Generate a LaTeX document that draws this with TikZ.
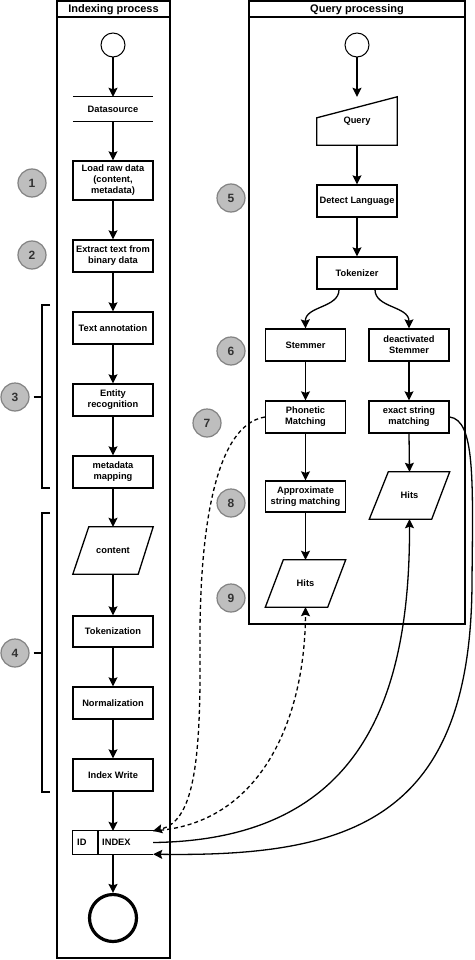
\documentclass[tikz,border=0pt]{standalone}
\usepackage{fontspec}
\setmainfont{Liberation Sans}
\usetikzlibrary{arrows.meta,calc}
\definecolor{numfill}{RGB}{190,190,190}
\definecolor{numdraw}{RGB}{130,130,130}
\begin{document}
\begin{tikzpicture}[x=1pt,y=-1pt,
  box/.style={draw,line width=1.3pt,minimum width=80pt,minimum height=32pt,inner sep=1pt,align=center,font=\fontsize{9.3}{11}\selectfont\bfseries},
  blank/.style={draw=none,minimum width=80pt,inner sep=1pt,align=center,font=\fontsize{9.3}{11}\selectfont\bfseries},
  num/.style={circle,fill=numfill,draw=numdraw,line width=1.2pt,minimum size=28pt,inner sep=0pt,font=\fontsize{12}{14}\selectfont\bfseries,text=black!80},
  lane/.style={draw,line width=1.5pt,inner sep=0pt},
  ttl/.style={font=\fontsize{11}{13}\selectfont\bfseries,inner sep=0pt},
  arr/.style={line width=1.3pt,-{Stealth[length=9pt,width=9pt,inset=1.5pt]}},
  dsh/.style={arr,dash pattern=on 4pt off 3pt},
  startc/.style={circle,draw,line width=1pt,minimum size=24pt,inner sep=0pt},
  endc/.style={circle,draw,line width=3.2pt,minimum size=47pt,inner sep=0pt},
  shp/.style={line width=1.3pt}]
\useasboundingbox (0,0) rectangle (474,960);
% lanes
\node[lane,minimum width=113pt,minimum height=957pt] (laneL) at (113.5,479.5) {};
\draw[line width=1.5pt] (57,17) -- (170,17);
\node[ttl] (titleL) at (113.5,9.5) {Indexing process};
\node[lane,minimum width=216pt,minimum height=623pt] (laneR) at (357,312.5) {};
\draw[line width=1.5pt] (249,17) -- (465,17);
\node[ttl] (titleR) at (357,9.5) {Query processing};

% left lane nodes
\node[startc] (lstart) at (113,45) {};
\node[blank,minimum height=24pt] (ds) at (113,109) {Datasource};
\draw[shp] (ds.north west) -- (ds.north east);
\draw[shp] (ds.south west) -- (ds.south east);
\node[box,minimum height=39pt] (load) at (113,180.5) {Load raw data\\(content,\\metadata)};
\node[box] (extract) at (113,256) {Extract text from\\binary data};
\node[box] (annot) at (113,328) {Text annotation};
\node[box] (entity) at (113,400) {Entity\\recognition};
\node[box] (meta) at (113,472) {metadata\\mapping};
\node[blank,minimum height=47pt] (content) at (113,550.5) {content};
\draw[shp] ($(content.north west)+(16,0)$) -- (content.north east) -- ($(content.south east)+(-15,0)$) -- (content.south west) -- cycle;
\node[box,minimum height=31pt] (tokz) at (113,631.5) {Tokenization};
\node[box] (norm) at (113,703) {Normalization};
\node[box] (iwrite) at (113,775) {Index Write};
\node[blank,minimum height=23pt] (index) at (113,842.5) {};
\draw[shp] (index.north east) -- (index.north west) -- (index.south west) -- (index.south east);
\draw[shp] (98,831) -- (98,854);
\node[blank,anchor=west,minimum width=0pt] (idlbl) at (76,842.5) {ID};
\node[blank,anchor=west,minimum width=0pt] (idxlbl) at (101,842.5) {INDEX};
\node[endc] (lend) at (113,918) {};

\draw[arr] (lstart) -- (ds.north);
\draw[arr] (ds.south) -- (load.north);
\draw[arr] (load) -- (extract);
\draw[arr] (extract) -- (annot);
\draw[arr] (annot) -- (entity);
\draw[arr] (entity) -- (meta);
\draw[arr] (meta.south) -- (content.north);
\draw[arr] (content.south) -- (tokz.north);
\draw[arr] (tokz) -- (norm);
\draw[arr] (norm) -- (iwrite);
\draw[arr] (iwrite.south) -- (index.north);
\draw[arr] (index.south) -- (lend.north);

% right lane nodes
\node[startc] (rstart) at (357,45) {};
\node[blank,minimum height=48pt] (query) at (357,121) {\raisebox{-4pt}{Query}};
\draw[shp] (query.south west) -- (query.south east) -- (query.north east) -- ($(query.north west)+(0,21)$) -- cycle;
\node[box] (detect) at (357,201) {Detect Language};
\node[box] (tokr) at (357,273) {Tokenizer};
\node[box] (stem) at (305.5,345) {Stemmer};
\node[box] (dstem) at (409,345) {deactivated\\Stemmer};
\node[box] (phon) at (305.5,417) {Phonetic\\Matching};
\node[box] (exact) at (409,417) {exact string\\matching};
\node[box,minimum height=31pt] (approx) at (305.5,496.5) {Approximate\\string matching};
\node[blank,minimum height=47pt] (hitsR) at (409.5,495.5) {Hits};
\draw[shp] ($(hitsR.north west)+(19,0)$) -- (hitsR.north east) -- ($(hitsR.south east)+(-18,0)$) -- (hitsR.south west) -- cycle;
\node[blank,minimum height=47pt] (hitsL) at (305.5,583.5) {Hits};
\draw[shp] ($(hitsL.north west)+(18,0)$) -- (hitsL.north east) -- ($(hitsL.south east)+(-18,0)$) -- (hitsL.south west) -- cycle;

\draw[arr] (rstart) -- (query.north);
\draw[arr] (query.south) -- (detect.north);
\draw[arr] (detect) -- (tokr);
\draw[arr] ($(tokr.south)+(-18,0)$) .. controls (339,308) and (305,306) .. (stem.north);
\draw[arr] ($(tokr.south)+(18,0)$) .. controls (375,308) and (409,306) .. (dstem.north);
\draw[arr] (stem) -- (phon);
\draw[arr] (dstem) -- (exact);
\draw[arr] (phon) -- (approx);
\draw[arr] (exact.south) -- (hitsR.north);
\draw[arr] (approx.south) -- (hitsL.north);

% cross connectors
\draw[dsh] (phon.west) .. controls (215,425) and (199,530) .. (200,650) .. controls (201,770) and (192,822) .. (index.north east);
\draw[dsh] (index.north east) .. controls (260,825) and (305,720) .. (hitsL.south);
\draw[arr] (index.east) .. controls (360,840) and (410,700) .. (hitsR.south);
\draw[arr] (exact.east) .. controls (475,420) and (473,480) .. (472,580) .. controls (472,820) and (350,857) .. (index.south east);

% brackets
\draw[line width=1.2pt] (50,305) -- (42,305) -- (42,488) -- (50,488);
\draw[line width=1.2pt] (50,513) -- (42,513) -- (42,792) -- (50,792);
\node[num] (n1) at (32,183) {1};
\node[num] (n2) at (32,255) {2};
\node[num] (n3) at (15,397) {3};
\node[num] (n4) at (15,653) {4};
\draw[line width=1.2pt] (n3.east) ++(4,0) -- (42,397);
\draw[line width=1.2pt] (n4.east) ++(4,0) -- (42,653);
\node[num] (n5) at (231,198) {5};
\node[num] (n6) at (231,351) {6};
\node[num] (n7) at (207,423) {7};
\node[num] (n8) at (231,503) {8};
\node[num] (n9) at (231,598) {9};
\end{tikzpicture}
\end{document}
